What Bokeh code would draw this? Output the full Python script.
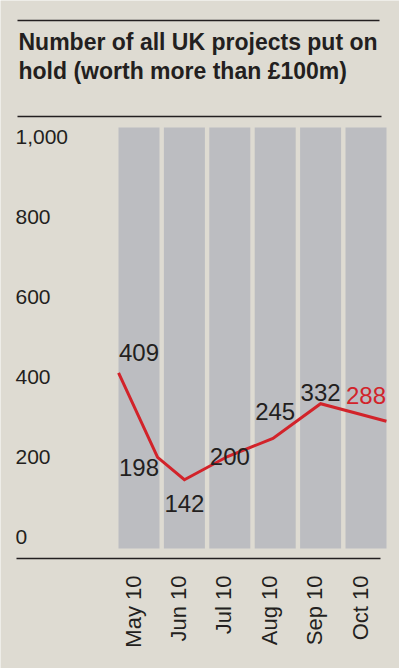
import math

from bokeh.core.properties import value
from bokeh.embed import file_html
from bokeh.models import ColumnDataSource, Range1d
from bokeh.plotting import figure
from bokeh.resources import INLINE

# ---- data -------------------------------------------------------------
months = ["May 10", "Jun 10", "Jul 10", "Aug 10", "Sep 10", "Oct 10"]
projects_on_hold = [409, 198, 142, 200, 245, 332, 288]
# fractional month index at which each reading is plotted (0 = May)
reading_at = [-0.45, 0.41, 1.0, 1.95, 2.95, 4.0, 5.45]
# month column each value label sits in
label_month = [0, 0, 1, 2, 3, 4, 5]
y_ticks = [0, 200, 400, 600, 800, 1000]
y_tick_labels = ["0", "200", "400", "600", "800", "1,000"]
title_lines = ["Number of all UK projects put on", "hold (worth more than £100m)"]

# ---- styling ------------------------------------------------------------
BG = "#dedbd2"
BAND = "#bcbdc1"
RED = "#d2232a"
INK = "#231f20"
FONT = value("Liberation Sans")

W, H = 399, 668
BAND_PX = 45.4          # pixel pitch between month columns
FIRST_BAND_PX = 138.5   # pixel centre of the first column
ZERO_PX = 536           # pixel row of the value 0
PX_PER_UNIT = 0.4       # pixels per project


def xd(px):
    return (px - FIRST_BAND_PX) / BAND_PX


def yd(py):
    return (ZERO_PX - py) / PX_PER_UNIT


p = figure(
    width=W, height=H,
    x_range=Range1d(xd(0), xd(W)), y_range=Range1d(yd(H), yd(0)),
    output_backend="svg", toolbar_location=None,
    min_border=0, background_fill_color=BG, border_fill_color=BG,
)
p.axis.visible = False
p.grid.visible = False
p.outline_line_color = None

# grey month columns
p.vbar(x=list(range(len(months))), width=41 / BAND_PX,
       bottom=yd(548), top=yd(127), fill_color=BAND, line_color=None)

# horizontal rules
p.segment(x0=[xd(17), xd(17), xd(16)], x1=[xd(379), xd(381), xd(380)],
          y0=[yd(20), yd(116), yd(558)], y1=[yd(20), yd(116), yd(558)],
          line_color=INK, line_width=1.6)

# title
p.text(x=[xd(18)] * 2, y=[yd(41.5), yd(70)], text=title_lines,
       text_font=FONT, text_font_style="bold", text_font_size="23px",
       text_color=INK, text_align="left", text_baseline="middle")

# y tick labels
p.text(x=[xd(15)] * len(y_ticks), y=y_ticks,
       text=y_tick_labels, text_font=FONT, text_font_size="21px",
       text_color=INK, text_align="left", text_baseline="middle")

# month labels, reading upwards
p.text(x=[i - 6 / BAND_PX for i in range(len(months))],
       y=[yd(575)] * len(months), text=months, angle=math.pi / 2,
       text_font=FONT, text_font_size="22px", text_color=INK,
       text_align="right", text_baseline="middle")

# the series
p.line(x=reading_at, y=projects_on_hold, line_color=RED, line_width=3,
       line_join="miter")

# value labels, nudged off the line by a few pixels
label_dy_px = [-20, 10, 24, 0, -27, -11, -26]
label_colors = [INK] * (len(projects_on_hold) - 1) + [RED]
src = ColumnDataSource(dict(
    x=label_month,
    y=[v - d / PX_PER_UNIT for v, d in zip(projects_on_hold, label_dy_px)],
    text=[str(v) for v in projects_on_hold],
    color=label_colors,
))
p.text(x="x", y="y", text="text", text_color="color", source=src,
       text_font=FONT, text_font_size="24px",
       text_align="center", text_baseline="middle")

open("out.html", "w").write(file_html(p, INLINE))
